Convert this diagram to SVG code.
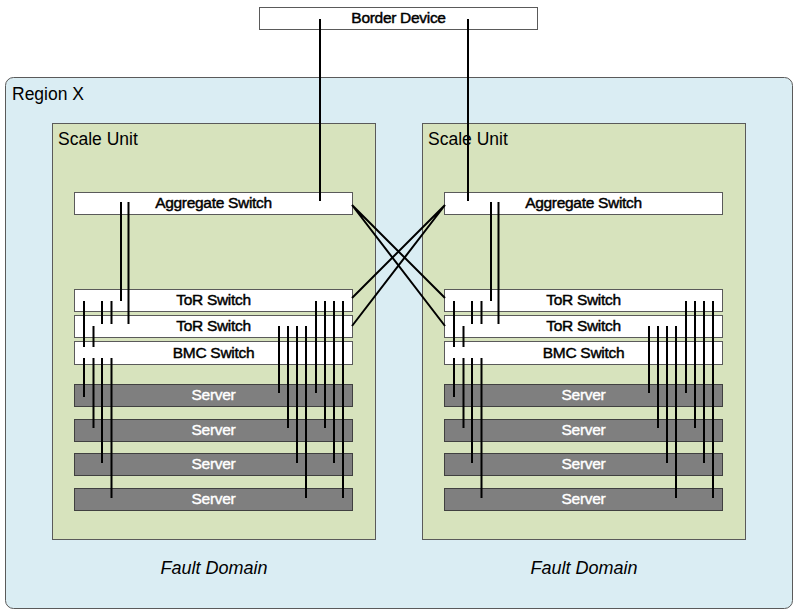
<svg xmlns="http://www.w3.org/2000/svg" width="796" height="612" viewBox="0 0 796 612">
<style>
.box{fill:#ffffff;stroke:#5a5a5a;stroke-width:1}
.srv{fill:#7f7f7f;stroke:#404040;stroke-width:1}
.t{font-family:"Liberation Sans",Arial,sans-serif;font-size:15.5px;letter-spacing:-0.3px;text-anchor:middle;fill:#000;stroke:#000;stroke-width:0.45px}
.ts{font-family:"Liberation Sans",Arial,sans-serif;font-size:15.5px;letter-spacing:-0.3px;text-anchor:middle;fill:#ffffff;stroke:#ffffff;stroke-width:0.4px}
.lbl{font-family:"Liberation Sans",Arial,sans-serif;font-size:17.5px;fill:#000}
.fd{font-family:"Liberation Sans",Arial,sans-serif;font-size:18px;font-style:italic;text-anchor:middle;fill:#000}
.c{stroke:#000;stroke-width:2;fill:none}
</style>
<g id="region">
<rect x="5.5" y="77.5" width="787" height="531" rx="8" fill="#daedf3" stroke="#5a5a5a"/>
<text class="lbl" x="12" y="100">Region X</text>
</g>
<g id="border-device">
<rect class="box" x="259.5" y="7.5" width="278" height="22"/>
<text class="t" x="398.5" y="23">Border Device</text>
</g>
<g id="scale-unit-1">
<rect x="52.5" y="123.5" width="323" height="416" fill="#d7e3bd" stroke="#5a5a5a"/>
<text class="lbl" x="58" y="145">Scale Unit</text>
</g>
<g id="scale-unit-2">
<rect x="422.5" y="123.5" width="323" height="416" fill="#d7e3bd" stroke="#5a5a5a"/>
<text class="lbl" x="428" y="145">Scale Unit</text>
</g>
<g id="su1-agg"><rect class="box" x="74.5" y="192.5" width="278" height="22"/><text class="t" x="213.5" y="208">Aggregate Switch</text></g>
<g id="su1-tor1"><rect class="box" x="74.5" y="289.5" width="278" height="22"/><text class="t" x="213.5" y="305">ToR Switch</text></g>
<g id="su1-tor2"><rect class="box" x="74.5" y="315.5" width="278" height="22"/><text class="t" x="213.5" y="331">ToR Switch</text></g>
<g id="su1-bmc"><rect class="box" x="74.5" y="341.5" width="278" height="23"/><text class="t" x="213.5" y="357.5">BMC Switch</text></g>
<g id="su1-server1"><rect class="srv" x="74.5" y="384.5" width="278" height="22"/><text class="ts" x="213.5" y="400">Server</text></g>
<g id="su1-server2"><rect class="srv" x="74.5" y="419.5" width="278" height="22"/><text class="ts" x="213.5" y="435">Server</text></g>
<g id="su1-server3"><rect class="srv" x="74.5" y="453.5" width="278" height="22"/><text class="ts" x="213.5" y="469">Server</text></g>
<g id="su1-server4"><rect class="srv" x="74.5" y="488.5" width="278" height="22"/><text class="ts" x="213.5" y="504">Server</text></g>
<g id="su2-agg"><rect class="box" x="444.5" y="192.5" width="278" height="22"/><text class="t" x="583.5" y="208">Aggregate Switch</text></g>
<g id="su2-tor1"><rect class="box" x="444.5" y="289.5" width="278" height="22"/><text class="t" x="583.5" y="305">ToR Switch</text></g>
<g id="su2-tor2"><rect class="box" x="444.5" y="315.5" width="278" height="22"/><text class="t" x="583.5" y="331">ToR Switch</text></g>
<g id="su2-bmc"><rect class="box" x="444.5" y="341.5" width="278" height="23"/><text class="t" x="583.5" y="357.5">BMC Switch</text></g>
<g id="su2-server1"><rect class="srv" x="444.5" y="384.5" width="278" height="22"/><text class="ts" x="583.5" y="400">Server</text></g>
<g id="su2-server2"><rect class="srv" x="444.5" y="419.5" width="278" height="22"/><text class="ts" x="583.5" y="435">Server</text></g>
<g id="su2-server3"><rect class="srv" x="444.5" y="453.5" width="278" height="22"/><text class="ts" x="583.5" y="469">Server</text></g>
<g id="su2-server4"><rect class="srv" x="444.5" y="488.5" width="278" height="22"/><text class="ts" x="583.5" y="504">Server</text></g>
<g id="labels">
<text class="fd" x="214" y="574">Fault Domain</text>
<text class="fd" x="584" y="574">Fault Domain</text>
</g>
<g id="connectors" class="c">
<path d="M320 19V201M468 19V201"/>
<path d="M352 205L445 298M352 205L445 326M445 205L352 298M445 205L352 326"/>
<g id="su1-links">
<path d="M121 202V301M128.5 202V324"/>
<path d="M84 301V347M102 301V324M111.5 301V324M93.5 326V347"/>
<path d="M84 358V397M93.5 358V428M102 358V463M111.5 358V498"/>
<path d="M279 326V393M288 326V428M297 326V463M306 326V498"/>
<path d="M316 301V393M325 301V428M334 301V463M343 301V498"/>
</g>
<g id="su2-links" transform="translate(370 0)">
<path d="M121 202V301M128.5 202V324"/>
<path d="M84 301V347M102 301V324M111.5 301V324M93.5 326V347"/>
<path d="M84 358V397M93.5 358V428M102 358V463M111.5 358V498"/>
<path d="M279 326V393M288 326V428M297 326V463M306 326V498"/>
<path d="M316 301V393M325 301V428M334 301V463M343 301V498"/>
</g>
</g>
</svg>
